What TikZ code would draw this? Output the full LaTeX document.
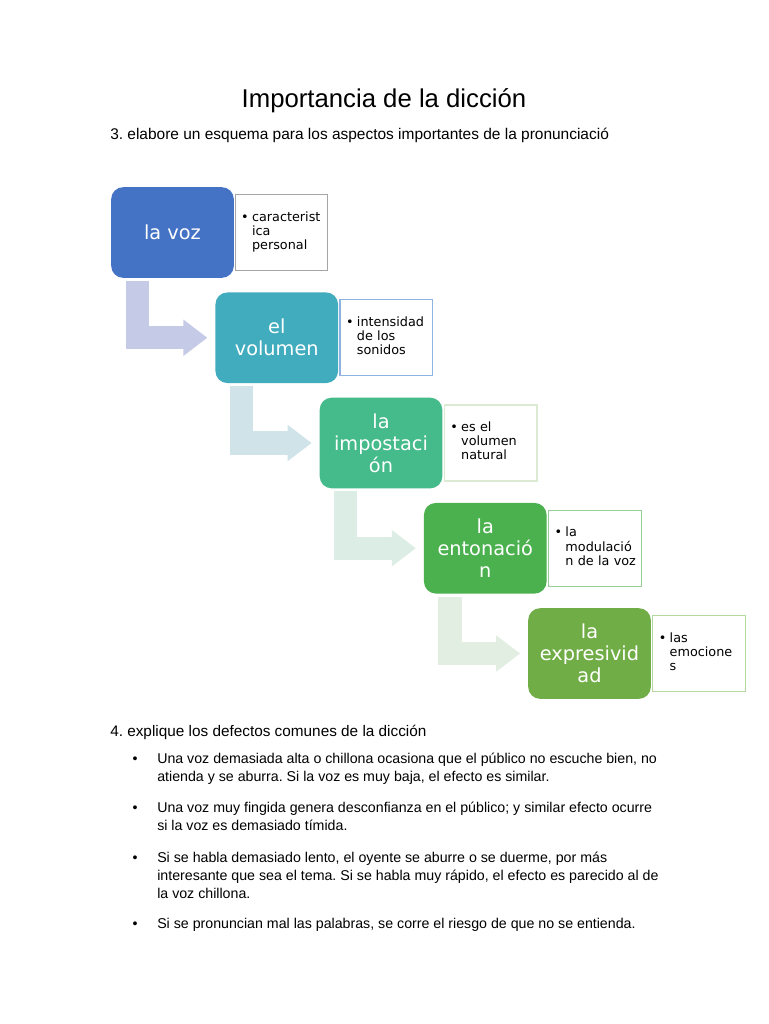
\documentclass[tikz,border=0pt]{standalone}
\usepackage{fontspec}
\setmainfont{Liberation Sans}
\newfontfamily\diagfont{DejaVu Sans}
\usetikzlibrary{positioning,arrows.meta}
\frenchspacing

\definecolor{vozblue}{HTML}{4472C4}
\definecolor{volteal}{HTML}{42ACBF}
\definecolor{impgreen}{HTML}{45BA8A}
\definecolor{entgreen}{HTML}{4BB14E}
\definecolor{expgreen}{HTML}{70AD47}
\definecolor{notegray}{HTML}{A5A5A5}
\definecolor{noteblue}{HTML}{8DB3E2}
\definecolor{notepale}{HTML}{DCEAD2}
\definecolor{notegreen}{HTML}{96CE98}
\definecolor{notelime}{HTML}{B5D99C}
\definecolor{arrvoz}{HTML}{C5CBE6}
\definecolor{arrvol}{HTML}{CFE3E9}
\definecolor{arrimp}{HTML}{DCEDE5}
\definecolor{arrent}{HTML}{E1EEE1}

\newcommand{\noteitem}[1]{\begin{tabular}[c]{@{}l@{\hspace{2.5pt}}l@{}}\textbullet&#1\end{tabular}}

\begin{document}
\begin{tikzpicture}[x=0.75pt,y=-0.75pt]
	\tikzstyle{stagebox} = [rounded corners=9pt, minimum width=92pt, minimum height=68pt, align=center, text=white, inner sep=0pt, outer sep=0pt, font=\diagfont\fontsize{14.5}{16.5}\selectfont]
	\tikzstyle{notebox} = [draw, fill=white, line width=0.9pt, minimum width=69.5pt, minimum height=57pt, text width=60.5pt, inner xsep=4.5pt, outer sep=0pt, align=left, font=\diagfont\fontsize{9.6}{10.5}\selectfont]
	\tikzstyle{bentarrow} = [line width=17.5pt, -{Triangle[length=18pt,width=26pt]}, shorten <=2.25pt, shorten >=6pt]
	\tikzstyle{bodytext} = [anchor=base west, inner sep=0pt, align=left, font=\fontsize{10.65}{13.5}\selectfont]
	\tikzstyle{bodybullet} = [anchor=base, inner sep=0pt, font=\fontsize{10.65}{13.5}\selectfont]

	\fill[white] (0,0) rectangle (768,1024);
	\useasboundingbox (0,0) rectangle (768,1024);

	\node[anchor=base, font=\fontsize{19.3}{23}\selectfont] (title) at (384,108) {Importancia de la dicción};
	\node[bodytext, font=\fontsize{11.6}{14}\selectfont] (task3) at (110,139) {3. elabore un esquema para los aspectos importantes de la pronunciació};

	\node (voz) at (172.5,232.5) [stagebox, fill=vozblue]{la voz};
	\node[notebox, draw=notegray, right=1pt of voz] (voznote) {\noteitem{caracterist\\&ica\\&personal}};

	\node (volumen) at (276.75,337.75) [stagebox, fill=volteal]{el\\volumen};
	\node[notebox, draw=noteblue, right=1.5pt of volumen] (volumennote) {\noteitem{intensidad\\&de los\\&sonidos}};

	\node (impostacion) at (381,443) [stagebox, fill=impgreen]{la\\impostaci\\ón};
	\node[notebox, draw=notepale, right=1.5pt of impostacion] (impostacionnote) {\noteitem{es el\\&volumen\\&natural}};

	\node (entonacion) at (485.25,548.25) [stagebox, fill=entgreen]{la\\entonació\\n};
	\node[notebox, draw=notegreen, right=1.5pt of entonacion] (entonacionnote) {\noteitem{la\\&modulació\\&n de la voz}};

	\node (expresividad) at (589.5,653.5) [stagebox, fill=expgreen]{la\\expresivid\\ad};
	\node[notebox, draw=notelime, right=1.5pt of expresividad] (expresividadnote) {\noteitem{las\\&emocione\\&s}};

	%Arrows
	\draw[bentarrow, arrvoz] ([xshift=19.5pt]voz.south west) |- (volumen.west);
	\draw[bentarrow, arrvol] ([xshift=19.5pt]volumen.south west) |- (impostacion.west);
	\draw[bentarrow, arrimp] ([xshift=19.5pt]impostacion.south west) |- (entonacion.west);
	\draw[bentarrow, arrent] ([xshift=19.5pt]entonacion.south west) |- (expresividad.west);

	%defects (base = last line)
	\node[bodytext, font=\fontsize{11.5}{14}\selectfont] (task4) at (110,736) {4. explique los defectos comunes de la dicción};
	\node[bodytext] (defa) at (157,781) {Una voz demasiada alta o chillona ocasiona que el público no escuche bien, no\\atienda y se aburra. Si la voz es muy baja, el efecto es similar.};
	\node[bodytext] (defb) at (157,830) {Una voz muy fingida genera desconfianza en el público; y similar efecto ocurre\\si la voz es demasiado tímida.};
	\node[bodytext] (defc) at (157,898) {Si se habla demasiado lento, el oyente se aburre o se duerme, por más\\interesante que sea el tema. Si se habla muy rápido, el efecto es parecido al de\\la voz chillona.};
	\node[bodytext] (defd) at (157,928) {Si se pronuncian mal las palabras, se corre el riesgo de que no se entienda.};
	\node[bodybullet] (bula) at (135,763) {\textbullet};
	\node[bodybullet] (bulb) at (135,812) {\textbullet};
	\node[bodybullet] (bulc) at (135,862) {\textbullet};
	\node[bodybullet] (buld) at (135,928) {\textbullet};
\end{tikzpicture}
\end{document}
